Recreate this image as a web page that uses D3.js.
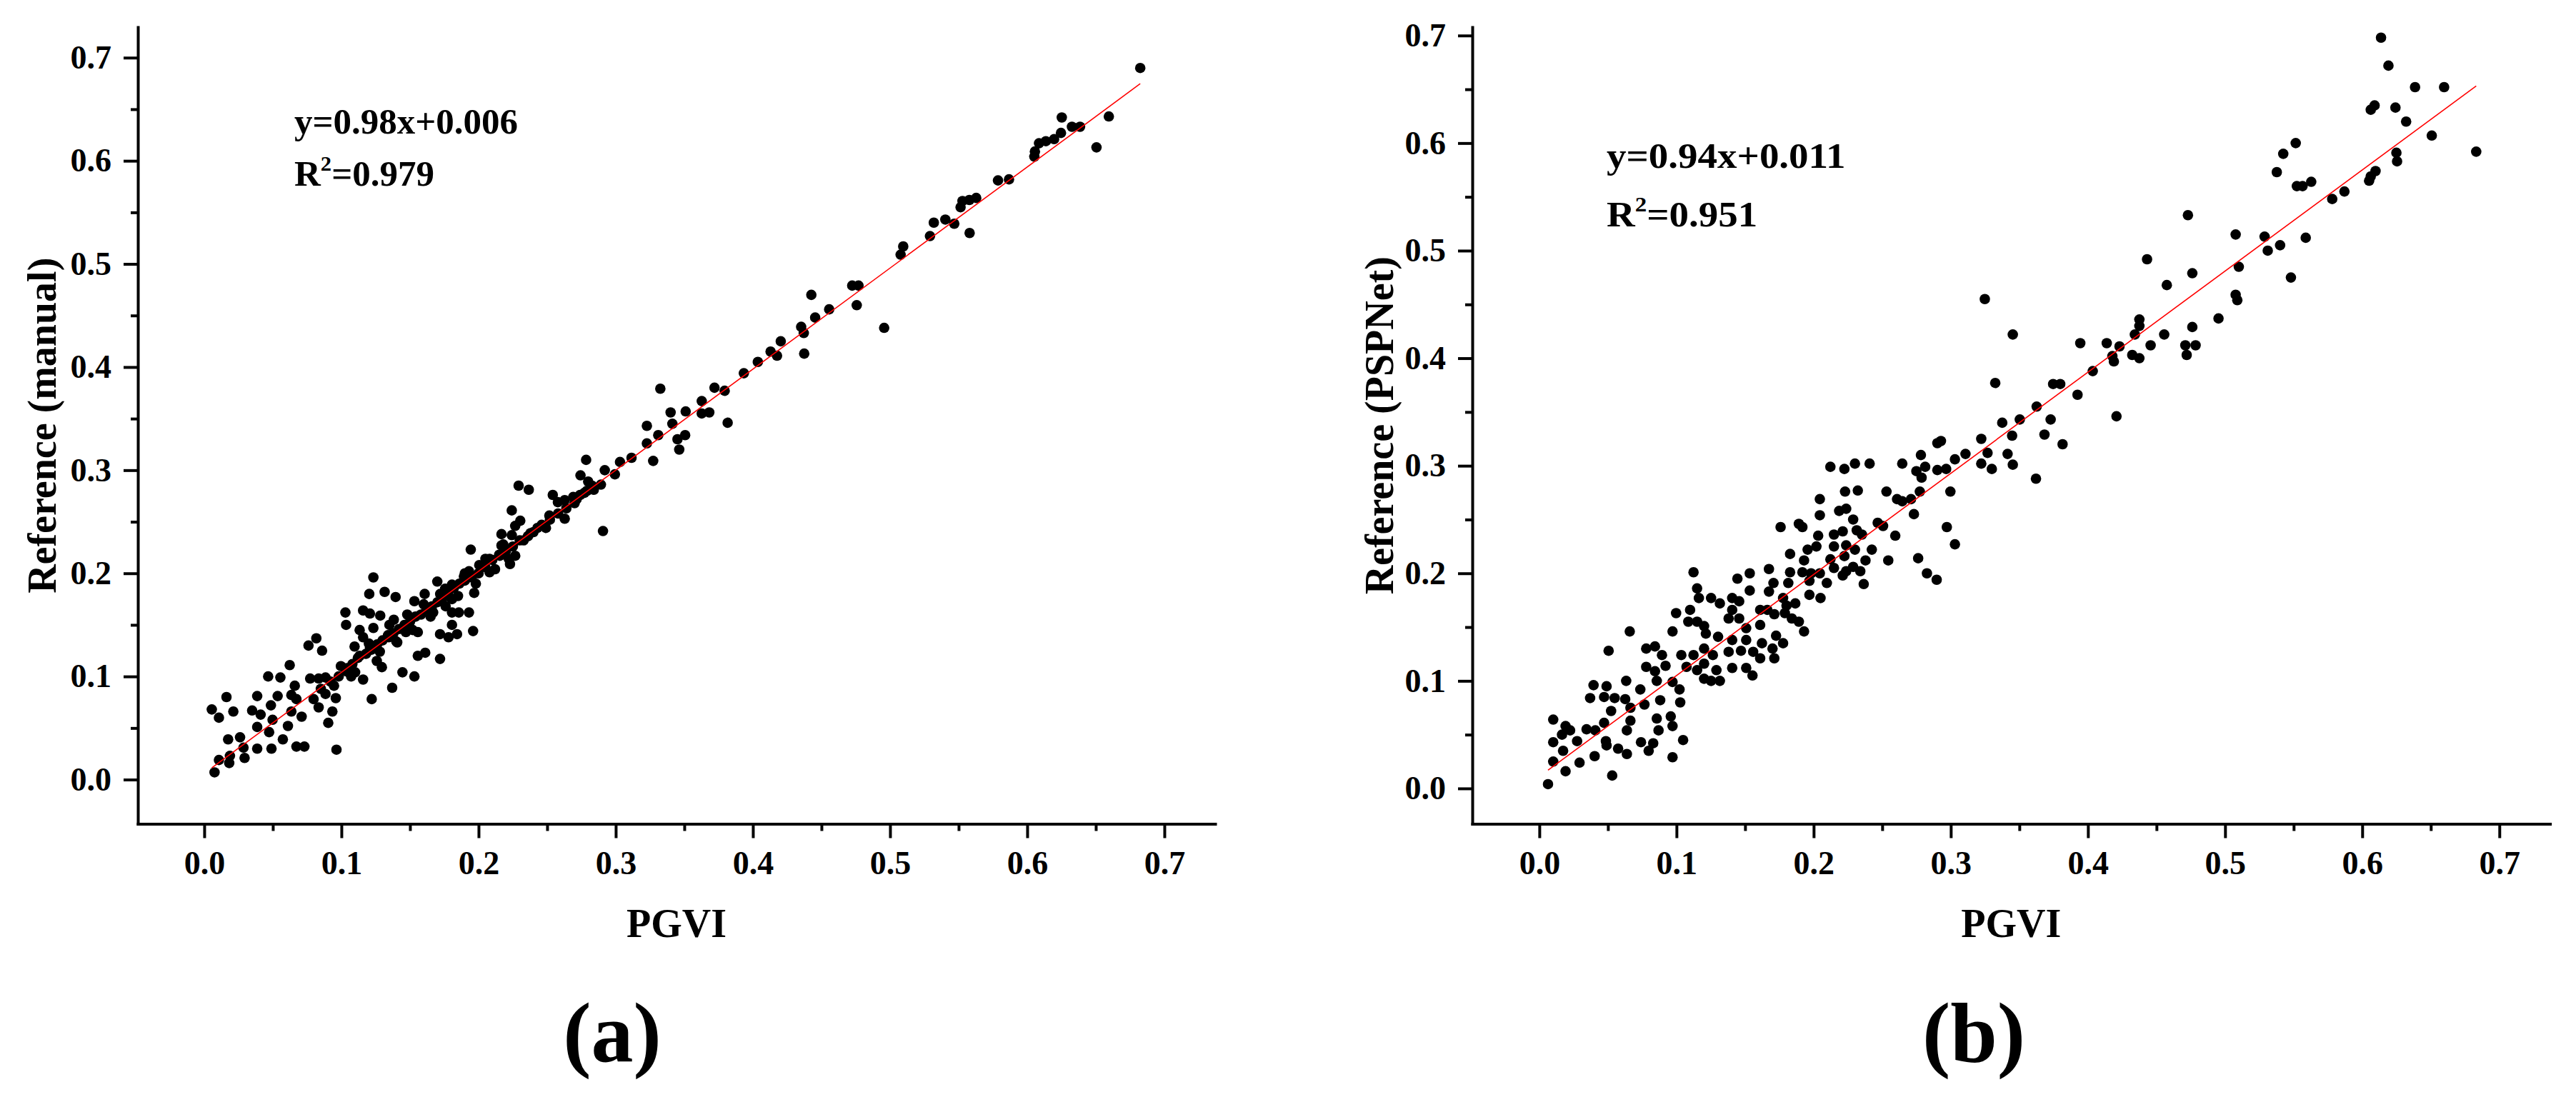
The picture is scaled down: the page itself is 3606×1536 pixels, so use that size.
<!DOCTYPE html>
<html><head><meta charset="utf-8">
<script src="https://cdn.jsdelivr.net/npm/d3@7"></script>
<style>
html,body{margin:0;padding:0;background:#fff;}
svg{display:block;}
text{font-family:"Liberation Serif","Times New Roman",serif;font-weight:bold;fill:#000;}
</style>
</head><body>
<svg id="chart" width="3606" height="1536"></svg>
<script>
// ---------------- DATA ----------------
const majorTicks = [0.0, 0.1, 0.2, 0.3, 0.4, 0.5, 0.6, 0.7];
const minorTicks = [0.05, 0.15, 0.25, 0.35, 0.45, 0.55, 0.65];
const xTitle = "PGVI";
const yTitles = ["Reference (manual)", "Reference (PSPNet)"];
const panelLabels = ["(a)", "(b)"];
const fitSlope = [0.98, 0.94];
const fitIntercept = [0.006, 0.011];
const eqTexts = ["y=0.98x+0.006", "y=0.94x+0.011"];
const r2Texts = ["=0.979", "=0.951"];

// Panel (a): PGVI vs Reference (manual)  [x, y]
const manualPoints = [
[0.0075,0.007],[0.0107,0.019],[0.0182,0.016],[0.0187,0.023],[0.0294,0.021],[0.0286,0.031],[0.0055,0.068],[0.0107,0.060],
[0.0162,0.080],[0.0212,0.066],[0.0174,0.039],[0.0261,0.041],[0.0386,0.030],[0.049,0.030],[0.0386,0.081],[0.0349,0.067],
[0.0411,0.063],[0.0386,0.051],[0.0473,0.046],[0.0498,0.058],[0.0486,0.072],[0.0535,0.081],[0.0466,0.100],[0.0555,0.099],
[0.0623,0.111],[0.0573,0.039],[0.0610,0.052],[0.0672,0.032],[0.073,0.032],[0.0635,0.066],[0.0710,0.061],[0.0672,0.078],
[0.0635,0.082],[0.066,0.091],[0.0772,0.098],[0.0797,0.078],[0.0834,0.070],[0.0884,0.083],[0.0959,0.079],[0.0934,0.066],
[0.0904,0.055],[0.0964,0.029],[0.0834,0.098],[0.0884,0.099],[0.0946,0.091],[0.0996,0.110],[0.1034,0.105],[0.1071,0.100],
[0.1158,0.097],[0.1221,0.078],[0.0760,0.130],[0.0817,0.137],[0.0859,0.125],[0.1034,0.150],[0.1029,0.162],[0.1096,0.129],
[0.1133,0.120],[0.1158,0.138],[0.1133,0.145],[0.1233,0.147],[0.1208,0.128],[0.1258,0.115],[0.1295,0.109],[0.1158,0.164],
[0.1208,0.161],[0.1283,0.159],[0.1203,0.180],[0.1233,0.196],[0.1315,0.182],[0.1395,0.177],[0.1370,0.089],[0.1445,0.104],
[0.1532,0.100],[0.1557,0.120],[0.1611,0.123],[0.1719,0.117],[0.1345,0.138],[0.1382,0.155],[0.1407,0.133],[0.1470,0.143],
[0.1507,0.157],[0.1557,0.143],[0.1532,0.173],[0.1607,0.180],[0.1669,0.162],[0.1699,0.192],[0.1719,0.141],[0.1781,0.138],
[0.1843,0.141],[0.1806,0.150],[0.1806,0.162],[0.1856,0.162],[0.1930,0.162],[0.1960,0.144],[0.1968,0.181],[0.1806,0.175],
[0.1756,0.185],[0.1806,0.189],[0.1893,0.197],[0.1930,0.202],[0.2005,0.208],[0.2080,0.201],[0.1943,0.223],[0.2080,0.214],
[0.2155,0.217],[0.2229,0.209],[0.2267,0.217],[0.2167,0.227],[0.2167,0.238],[0.2242,0.237],[0.2267,0.246],[0.2304,0.251],
[0.2242,0.261],[0.2292,0.285],[0.2366,0.281],[0.2329,0.232],[0.2379,0.239],[0.2429,0.244],[0.2491,0.244],[0.2516,0.256],
[0.2628,0.253],[0.2578,0.269],[0.2628,0.271],[0.2690,0.274],[0.2541,0.276],
[0.085,0.088],[0.092,0.095],[0.098,0.100],[0.104,0.108],[0.108,0.112],[0.112,0.118],[0.118,0.122],[0.122,0.126],
[0.126,0.131],[0.130,0.135],[0.134,0.140],[0.138,0.142],[0.142,0.146],[0.146,0.150],[0.150,0.153],[0.154,0.158],
[0.158,0.160],[0.162,0.165],[0.166,0.168],[0.170,0.172],[0.174,0.176],[0.178,0.182],[0.182,0.186],[0.186,0.190],
[0.190,0.193],[0.195,0.196],[0.200,0.200],[0.205,0.206],[0.210,0.213],[0.215,0.218],[0.220,0.222],[0.225,0.226],
[0.230,0.232],[0.236,0.236],[0.240,0.240],[0.246,0.247],[0.252,0.252],[0.258,0.258],[0.264,0.263],
[0.110,0.104],[0.120,0.132],[0.128,0.124],[0.135,0.150],[0.140,0.134],[0.148,0.160],[0.152,0.145],[0.160,0.170],
[0.165,0.158],[0.172,0.180],[0.176,0.168],[0.185,0.178],[0.190,0.200],[0.198,0.190],[0.205,0.214],[0.212,0.204],
[0.218,0.228],[0.222,0.214],[0.270,0.268],[0.274,0.276],[0.279,0.280],[0.284,0.281],
[0.2715,0.272],[0.2771,0.278],[0.2827,0.285],[0.2743,0.295],[0.2784,0.310],[0.2799,0.289],[0.2892,0.286],[0.2920,0.300],
[0.2994,0.296],[0.3031,0.308],[0.3115,0.312],[0.2907,0.241],[0.3227,0.326],[0.3273,0.309],[0.3227,0.343],[0.3310,0.334],
[0.3325,0.379],[0.3400,0.356],[0.3413,0.345],[0.3450,0.330],[0.3463,0.320],[0.3506,0.334],[0.3510,0.357],[0.3627,0.367],
[0.3627,0.355],[0.3682,0.356],[0.3720,0.380],[0.3794,0.377],[0.3816,0.346],[0.3934,0.394],[0.4036,0.405],[0.4129,0.415],
[0.4176,0.411],[0.4203,0.425],[0.4352,0.439],[0.4371,0.433],[0.4374,0.413],[0.4426,0.470],[0.4454,0.448],[0.4556,0.456],
[0.4724,0.479],[0.4770,0.479],[0.4757,0.460],[0.4957,0.438],[0.5077,0.509],[0.5096,0.517],[0.5291,0.527],[0.5319,0.540],
[0.5403,0.543],[0.5468,0.539],[0.5580,0.530],
[0.6824,0.690],[0.6595,0.643],[0.6505,0.613],[0.6252,0.642],[0.6326,0.633],[0.6385,0.633],[0.6246,0.627],[0.6196,0.621],
[0.6136,0.619],[0.6086,0.617],[0.6056,0.609],[0.6052,0.604],[0.5867,0.582],[0.5787,0.581],[0.5628,0.564],[0.5528,0.561],
[0.5514,0.555],[0.5578,0.562]
];

// Panel (b): PGVI vs Reference (PSPNet)  [x, y]
const pspnetPoints = [
[0.0063,0.004],[0.0191,0.016],[0.0101,0.025],[0.0293,0.024],[0.0403,0.030],[0.0531,0.012],[0.0101,0.043],[0.0173,0.035],
[0.0101,0.064],[0.0191,0.058],[0.0224,0.054],[0.0165,0.050],[0.0275,0.044],[0.0344,0.055],[0.0408,0.054],[0.0472,0.061],
[0.0485,0.044],[0.0490,0.040],[0.0574,0.037],[0.0638,0.032],[0.0638,0.054],[0.0664,0.063],[0.0741,0.043],[0.0797,0.035],
[0.0830,0.042],[0.0856,0.065],[0.0869,0.054],[0.0958,0.067],[0.0971,0.058],[0.0971,0.029],[0.1048,0.045],[0.0523,0.072],
[0.0490,0.095],[0.0370,0.084],[0.0395,0.096],[0.0472,0.085],[0.0549,0.084],[0.0626,0.083],[0.0664,0.075],[0.0633,0.100],
[0.0766,0.078],[0.0736,0.092],[0.0881,0.082],[0.1027,0.080],[0.0505,0.128],[0.0659,0.146],[0.0779,0.130],[0.0843,0.132],
[0.0894,0.124],[0.0779,0.113],[0.0843,0.109],[0.0856,0.100],[0.0920,0.114],[0.0971,0.099],[0.1022,0.092],[0.1035,0.124],
[0.1073,0.113],[0.0971,0.146],[0.0997,0.163],[0.1124,0.124],[0.1150,0.110],[0.1201,0.102],[0.1252,0.100],[0.1316,0.100],
[0.1201,0.116],[0.1291,0.110],[0.1201,0.130],[0.1265,0.124],[0.1406,0.112],[0.1508,0.112],[0.1554,0.105],[0.1380,0.127],
[0.1406,0.138],[0.1470,0.128],[0.1508,0.138],[0.1559,0.127],[0.1623,0.135],[0.1610,0.121],[0.1713,0.121],[0.1700,0.130],
[0.1726,0.142],[0.1777,0.135],[0.1610,0.152],[0.1508,0.149],[0.1457,0.158],[0.1380,0.158],[0.1303,0.141],[0.1214,0.144],
[0.1150,0.155],[0.1086,0.155],[0.1201,0.151],[0.1099,0.166],[0.1150,0.186],[0.1124,0.201],[0.1163,0.177],[0.1252,0.177],
[0.1316,0.172],[0.1406,0.177],[0.1406,0.166],[0.1457,0.174],[0.1444,0.195],[0.1534,0.200],[0.1534,0.184],[0.1610,0.166],
[0.1662,0.166],[0.1713,0.162],[0.1790,0.163],[0.1841,0.158],[0.1892,0.155],[0.1930,0.146],[0.1802,0.170],[0.1866,0.172],
[0.1674,0.183],[0.1707,0.191],[0.1674,0.204],[0.1777,0.177],[0.1815,0.191],[0.1828,0.201],[0.1918,0.201],[0.1981,0.200],
[0.2045,0.200],[0.1969,0.180],[0.2050,0.177],[0.1969,0.193],[0.2096,0.191],[0.1828,0.218],[0.1930,0.212],[0.1956,0.222],
[0.2020,0.225],[0.2033,0.235],[0.2045,0.254],[0.2045,0.269],[0.1759,0.243],[0.1892,0.246],[0.1918,0.243],[0.2122,0.299],
[0.2224,0.297],[0.2301,0.302],[0.2408,0.302],[0.2229,0.276],[0.2322,0.277],[0.2186,0.258],[0.2237,0.260],[0.2288,0.250],
[0.2148,0.236],[0.2212,0.239],[0.2314,0.240],[0.2352,0.236],[0.2148,0.225],[0.2237,0.226],[0.2301,0.222],[0.2224,0.216],
[0.2122,0.213],[0.2148,0.205],[0.2237,0.202],[0.2288,0.206],[0.2340,0.202],[0.2212,0.198],[0.2365,0.190],[0.2378,0.212],
[0.2424,0.222],[0.2467,0.247],[0.2506,0.244],[0.2595,0.235],[0.2544,0.212],[0.2531,0.276],[0.2608,0.269],[0.2646,0.267],
[0.2710,0.269],[0.2774,0.276],[0.2731,0.255],[0.2646,0.302],[0.2749,0.295],[0.2813,0.299],[0.2787,0.289],[0.2782,0.310],
[0.2902,0.321],[0.2928,0.323],[0.2902,0.296],[0.2966,0.297],[0.2997,0.276],[0.2971,0.243],[0.3030,0.227],[0.2762,0.214],
[0.2826,0.200],[0.2897,0.194],[0.3030,0.306],[0.3107,0.311],[0.3222,0.325],[0.3268,0.312],[0.3222,0.302],[0.3299,0.297],
[0.3414,0.311],[0.3452,0.301],[0.3447,0.328],[0.3375,0.340],[0.3503,0.343],[0.3626,0.355],[0.3728,0.343],[0.3683,0.329],
[0.3815,0.320],[0.3621,0.288],[0.3324,0.377],[0.3452,0.422],[0.3746,0.376],[0.3798,0.376],
[0.3248,0.455],[0.4729,0.533],[0.4431,0.492],[0.4761,0.479],[0.4575,0.468],[0.4952,0.437],[0.4375,0.436],[0.4375,0.430],
[0.4342,0.422],[0.4761,0.429],[0.4556,0.422],[0.4457,0.412],[0.4710,0.412],[0.4785,0.412],[0.4720,0.403],[0.4323,0.403],
[0.4375,0.400],[0.4230,0.411],[0.4137,0.414],[0.4178,0.402],[0.4189,0.397],[0.3944,0.414],[0.4035,0.388],[0.3924,0.366],
[0.4208,0.346],
[0.6137,0.698],[0.6191,0.672],[0.6385,0.652],[0.6597,0.652],[0.6062,0.631],[0.6090,0.635],[0.6242,0.633],[0.6320,0.620],
[0.6507,0.607],[0.6831,0.592],[0.6249,0.591],[0.6254,0.583],[0.6097,0.574],[0.6062,0.569],[0.6050,0.565],[0.5870,0.555],
[0.5781,0.548],[0.5628,0.564],[0.5565,0.560],[0.5523,0.560],[0.5515,0.600],[0.5424,0.590],[0.5377,0.573],[0.5588,0.512],
[0.5288,0.513],[0.5077,0.515],[0.5401,0.505],[0.5311,0.500],[0.5100,0.485],[0.5480,0.475],[0.5077,0.459],[0.5089,0.454]
];

const datasets = [manualPoints, pspnetPoints];

// ---------------- LAYOUT ----------------
const panels = [
  {left:193, right:1701, top:38, bottom:1153.5, xDom:[-0.0484,0.737], yDom:[-0.0429,0.7296],
   eqX:412, eqY:187, r2Y:260, eqScale:1.02, yTitleX:78, labelX:857},
  {left:2061, right:3569.6, top:38, bottom:1153.5, xDom:[-0.0489,0.7369], yDom:[-0.0329,0.7078],
   eqX:2249, eqY:235, r2Y:317, eqScale:1.1, yTitleX:1950, labelX:2763}
];

const svg = d3.select("#chart");
svg.append("rect").attr("width",3606).attr("height",1536).attr("fill","#fff");

const fmt = d3.format(".1f");

panels.forEach((p, i) => {
  const x = d3.scaleLinear().domain(p.xDom).range([p.left, p.right]);
  const y = d3.scaleLinear().domain(p.yDom).range([p.bottom, p.top]);
  const g = svg.append("g");

  // minor ticks
  g.append("g").attr("transform",`translate(0,${p.bottom})`)
    .call(d3.axisBottom(x).tickValues(minorTicks).tickSize(10).tickSizeOuter(0).tickFormat(""))
    .call(a => a.select(".domain").remove())
    .call(a => a.selectAll("line").attr("stroke","#000").attr("stroke-width",4));
  g.append("g").attr("transform",`translate(${p.left},0)`)
    .call(d3.axisLeft(y).tickValues(minorTicks).tickSize(10).tickSizeOuter(0).tickFormat(""))
    .call(a => a.select(".domain").remove())
    .call(a => a.selectAll("line").attr("stroke","#000").attr("stroke-width",4));

  // major x axis
  const gx = g.append("g").attr("transform",`translate(0,${p.bottom})`)
    .call(d3.axisBottom(x).tickValues(majorTicks).tickSize(20).tickSizeOuter(0).tickPadding(18).tickFormat(fmt));
  gx.select(".domain").attr("stroke","#000").attr("stroke-width",4).attr("stroke-linecap","square");
  gx.selectAll("line").attr("stroke","#000").attr("stroke-width",4);
  gx.selectAll("text").attr("font-size",46).attr("font-family",null);

  // major y axis
  const gy = g.append("g").attr("transform",`translate(${p.left},0)`)
    .call(d3.axisLeft(y).tickValues(majorTicks).tickSize(20).tickSizeOuter(0).tickPadding(17).tickFormat(fmt));
  gy.select(".domain").attr("stroke","#000").attr("stroke-width",4).attr("stroke-linecap","square");
  gy.selectAll("line").attr("stroke","#000").attr("stroke-width",4);
  gy.selectAll("text").attr("font-size",46).attr("font-family",null);

  // points
  const pts = datasets[i];
  g.append("g").selectAll("circle").data(pts).join("circle")
    .attr("cx", d => x(d[0])).attr("cy", d => y(d[1])).attr("r", 7.3).attr("fill","#000");

  // fit line
  const ext = d3.extent(pts, d => d[0]);
  const line = d3.line().x(d => x(d)).y(d => y(fitSlope[i]*d + fitIntercept[i]));
  g.append("path").datum(ext).attr("d", line).attr("stroke","#ff0000").attr("stroke-width",1.6).attr("fill","none");

  // equation text
  const eg = g.append("g").attr("transform",`translate(${p.eqX},0) scale(${p.eqScale},1)`);
  eg.append("text").attr("x", 0).attr("y", p.eqY).attr("font-size",50).text(eqTexts[i]);
  const r2 = eg.append("text").attr("x", 0).attr("y", p.r2Y).attr("font-size",50);
  r2.append("tspan").text("R");
  r2.append("tspan").attr("font-size",30).attr("dy",-21).text("2");
  r2.append("tspan").attr("dy",21).text(r2Texts[i]);

  // axis titles
  g.append("text").attr("x",(p.left+p.right)/2).attr("y",1312).attr("text-anchor","middle")
    .attr("font-size",56).text(xTitle);
  g.append("text").attr("transform",`translate(${p.yTitleX},${(p.top+p.bottom)/2}) rotate(-90)`)
    .attr("text-anchor","middle").attr("font-size",56).text(yTitles[i]);

  // panel label
  g.append("text").attr("x", p.labelX).attr("y",1486).attr("text-anchor","middle")
    .attr("font-size",118).text(panelLabels[i]);
});
</script>
</body></html>
